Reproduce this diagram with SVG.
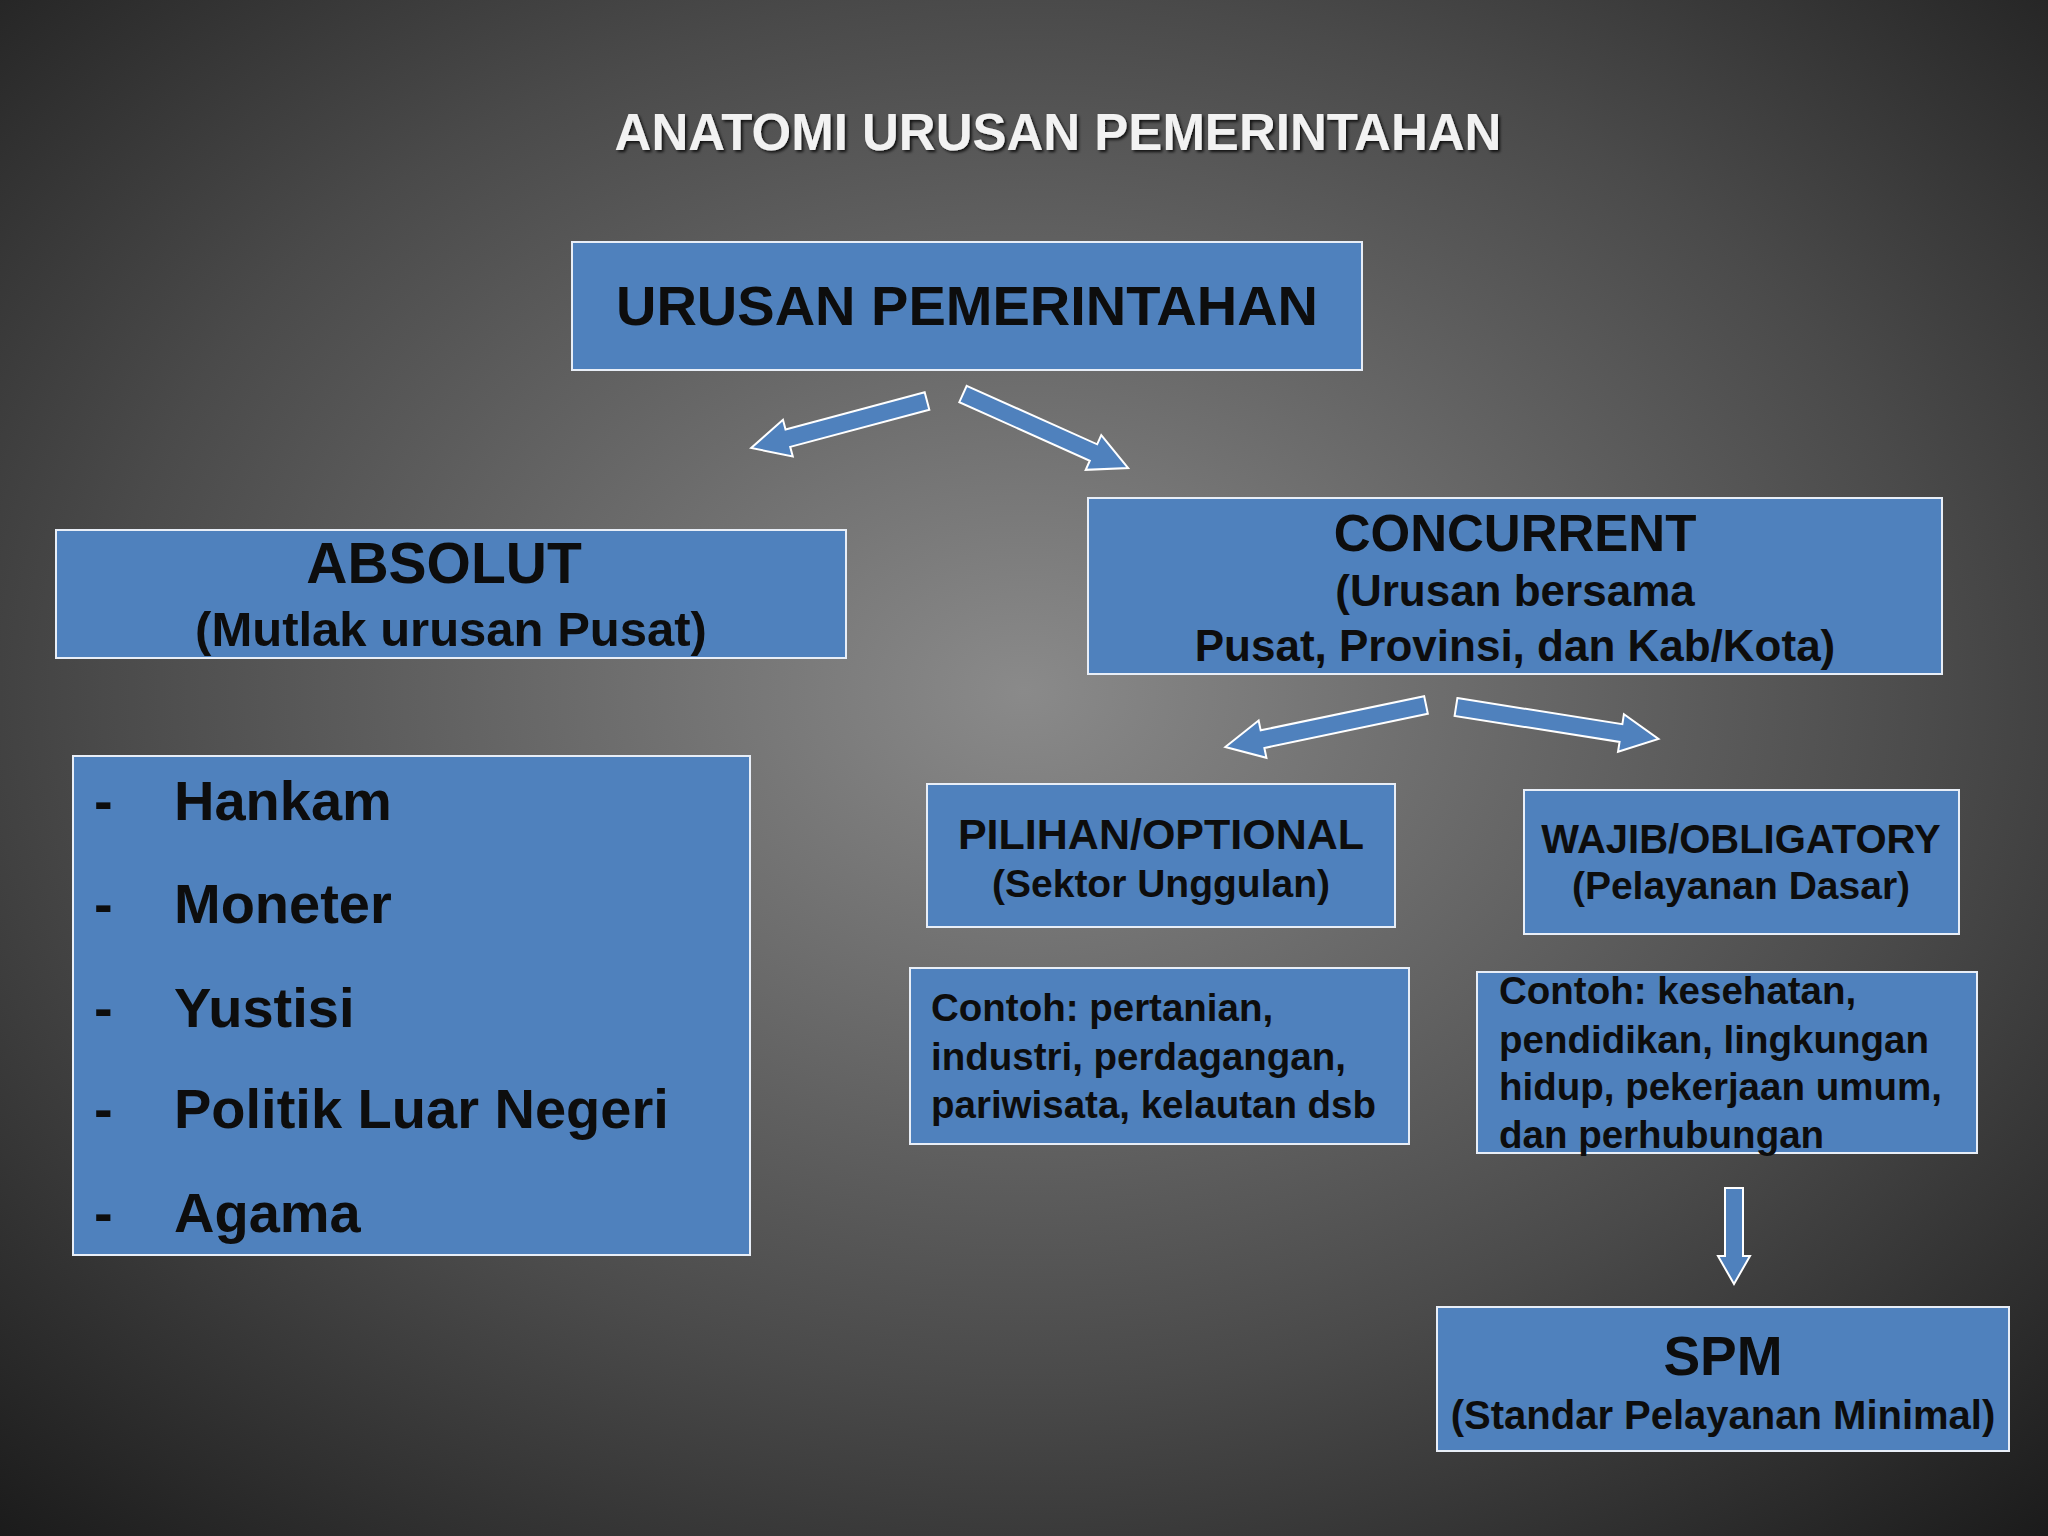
<svg xmlns="http://www.w3.org/2000/svg" width="2048" height="1536" viewBox="0 0 2048 1536">
<defs>
<radialGradient id="bg" cx="50%" cy="45%" r="75%">
<stop offset="0" stop-color="#8a8a8a"/><stop offset="0.6" stop-color="#4a4a4a"/><stop offset="1" stop-color="#1a1a1a"/>
</radialGradient>
<filter id="sh"><feDropShadow dx="2" dy="2" stdDeviation="1.5" flood-color="#000" flood-opacity="0.8"/></filter>
</defs>
<style>
.box{fill:#4f81bd;stroke:#e8eef7;stroke-width:2}
.arr{fill:#4f81bd;stroke:#ffffff;stroke-width:2}
text{font-family:"Liberation Sans",Arial,sans-serif;font-weight:bold;fill:#0d0d0d}
.c{text-anchor:middle}
</style>
<rect width="2048" height="1536" fill="url(#bg)"/>
<text x="1058" y="150" class="c" font-size="51" style="fill:#f2f2f2" filter="url(#sh)">ANATOMI URUSAN PEMERINTAHAN</text>
<g id="urusan"><rect class="box" x="572" y="242" width="790" height="128"/><text x="967" y="325" class="c" font-size="56">URUSAN PEMERINTAHAN</text></g>
<g id="absolut"><rect class="box" x="56" y="530" width="790" height="128"/><text x="444" y="583" class="c" font-size="57">ABSOLUT</text><text x="451" y="646" class="c" font-size="49">(Mutlak urusan Pusat)</text></g>
<g id="list"><rect class="box" x="73" y="756" width="677" height="499"/>
<g font-size="56">
<text x="94" y="820">-</text><text x="174" y="820">Hankam</text>
<text x="94" y="923">-</text><text x="174" y="923">Moneter</text>
<text x="94" y="1027">-</text><text x="174" y="1027">Yustisi</text>
<text x="94" y="1128">-</text><text x="174" y="1128">Politik Luar Negeri</text>
<text x="94" y="1232">-</text><text x="174" y="1232">Agama</text></g></g>
<g id="concurrent"><rect class="box" x="1088" y="498" width="854" height="176"/><text x="1515" y="551" class="c" font-size="51">CONCURRENT</text><text x="1515" y="606" class="c" font-size="44">(Urusan bersama</text><text x="1515" y="661" class="c" font-size="44">Pusat, Provinsi, dan Kab/Kota)</text></g>
<g id="pilihan"><rect class="box" x="927" y="784" width="468" height="143"/><text x="1161" y="849" class="c" font-size="43">PILIHAN/OPTIONAL</text><text x="1161" y="897" class="c" font-size="39">(Sektor Unggulan)</text></g>
<g id="wajib"><rect class="box" x="1524" y="790" width="435" height="144"/><text x="1741" y="853" class="c" font-size="40">WAJIB/OBLIGATORY</text><text x="1741" y="899" class="c" font-size="39">(Pelayanan Dasar)</text></g>
<g id="contoh1"><rect class="box" x="910" y="968" width="499" height="176"/><g font-size="38.5"><text x="931" y="1021">Contoh: pertanian,</text><text x="931" y="1070">industri, perdagangan,</text><text x="931" y="1118">pariwisata, kelautan dsb</text></g></g>
<g id="contoh2"><rect class="box" x="1477" y="972" width="500" height="181"/><g font-size="38.5"><text x="1499" y="1004">Contoh: kesehatan,</text><text x="1499" y="1053">pendidikan, lingkungan</text><text x="1499" y="1100">hidup, pekerjaan umum,</text><text x="1499" y="1148">dan perhubungan</text></g></g>
<g id="spm"><rect class="box" x="1437" y="1307" width="572" height="144"/><text x="1723" y="1375" class="c" font-size="55">SPM</text><text x="1723" y="1429" class="c" font-size="40">(Standar Pelayanan Minimal)</text></g>
<g id="connectors">
<polygon class="arr" transform="translate(927,401) rotate(165.05)" points="0,-9 144,-9 144,-19 182,0 144,19 144,9 0,9"/>
<polygon class="arr" transform="translate(963,394) rotate(24.15)" points="0,-9 143,-9 143,-19 181,0 143,19 143,9 0,9"/>
<polygon class="arr" transform="translate(1426,705) rotate(168.2)" points="0,-9 167,-9 167,-19 205,0 167,19 167,9 0,9"/>
<polygon class="arr" transform="translate(1456,707) rotate(8.96)" points="0,-9 167,-9 167,-19 205,0 167,19 167,9 0,9"/>
<polygon class="arr" transform="translate(1734,1188) rotate(90)" points="0,-9 68,-9 68,-16 96,0 68,16 68,9 0,9"/>
</g>
</svg>
